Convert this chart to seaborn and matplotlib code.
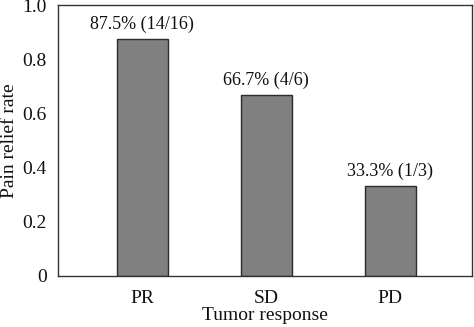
import matplotlib
matplotlib.use("Agg")
import matplotlib.pyplot as plt
import seaborn as sns
import pandas as pd

categories = ["PR", "SD", "PD"]
responders = [14, 4, 1]
totals = [16, 6, 3]
rates = [r / t for r, t in zip(responders, totals)]
bar_labels = ["87.5% (14/16)", "66.7% (4/6)", "33.3% (1/3)"]
yticks = [0, 0.2, 0.4, 0.6, 0.8, 1.0]
ytick_labels = ["0", "0.2", "0.4", "0.6", "0.8", "1.0"]

sns.set_style("white")
plt.rcParams["font.family"] = ["Liberation Serif", "DejaVu Serif"]

df = pd.DataFrame({"response": categories, "rate": rates})

fig = plt.figure(figsize=(4.74, 3.27), dpi=100)
ax = fig.add_axes([58 / 474, 1 - 276 / 327, 414 / 474, 271 / 327])

sns.barplot(data=df, x="response", y="rate", color="#808080", width=0.41,
            edgecolor="#2b2b2b", linewidth=1.0, saturation=1, ax=ax)

for i, (v, lab) in enumerate(zip(rates, bar_labels)):
    ax.text(i, v + 0.037, lab, ha="center", va="baseline", fontsize=13, color="#111111")

ax.set_xlim(-0.68, 2.66)
ax.set_ylim(0, 1.0)
ax.set_yticks(yticks)
ax.set_yticklabels(ytick_labels, fontsize=14, color="#111111")
ax.tick_params(axis="y", direction="out", length=6, width=1, color="#333333", pad=2)
ax.tick_params(axis="x", length=0, labelsize=14, pad=10, labelcolor="#111111")
for s in ax.spines.values():
    s.set_color("#333333")
    s.set_linewidth(1.0)
ax.set_xlabel("Tumor response", fontsize=14, labelpad=0, color="#111111")
ax.set_ylabel("Pain relief rate", fontsize=14, labelpad=3, color="#111111")

fig.savefig("out.png", dpi=100)
